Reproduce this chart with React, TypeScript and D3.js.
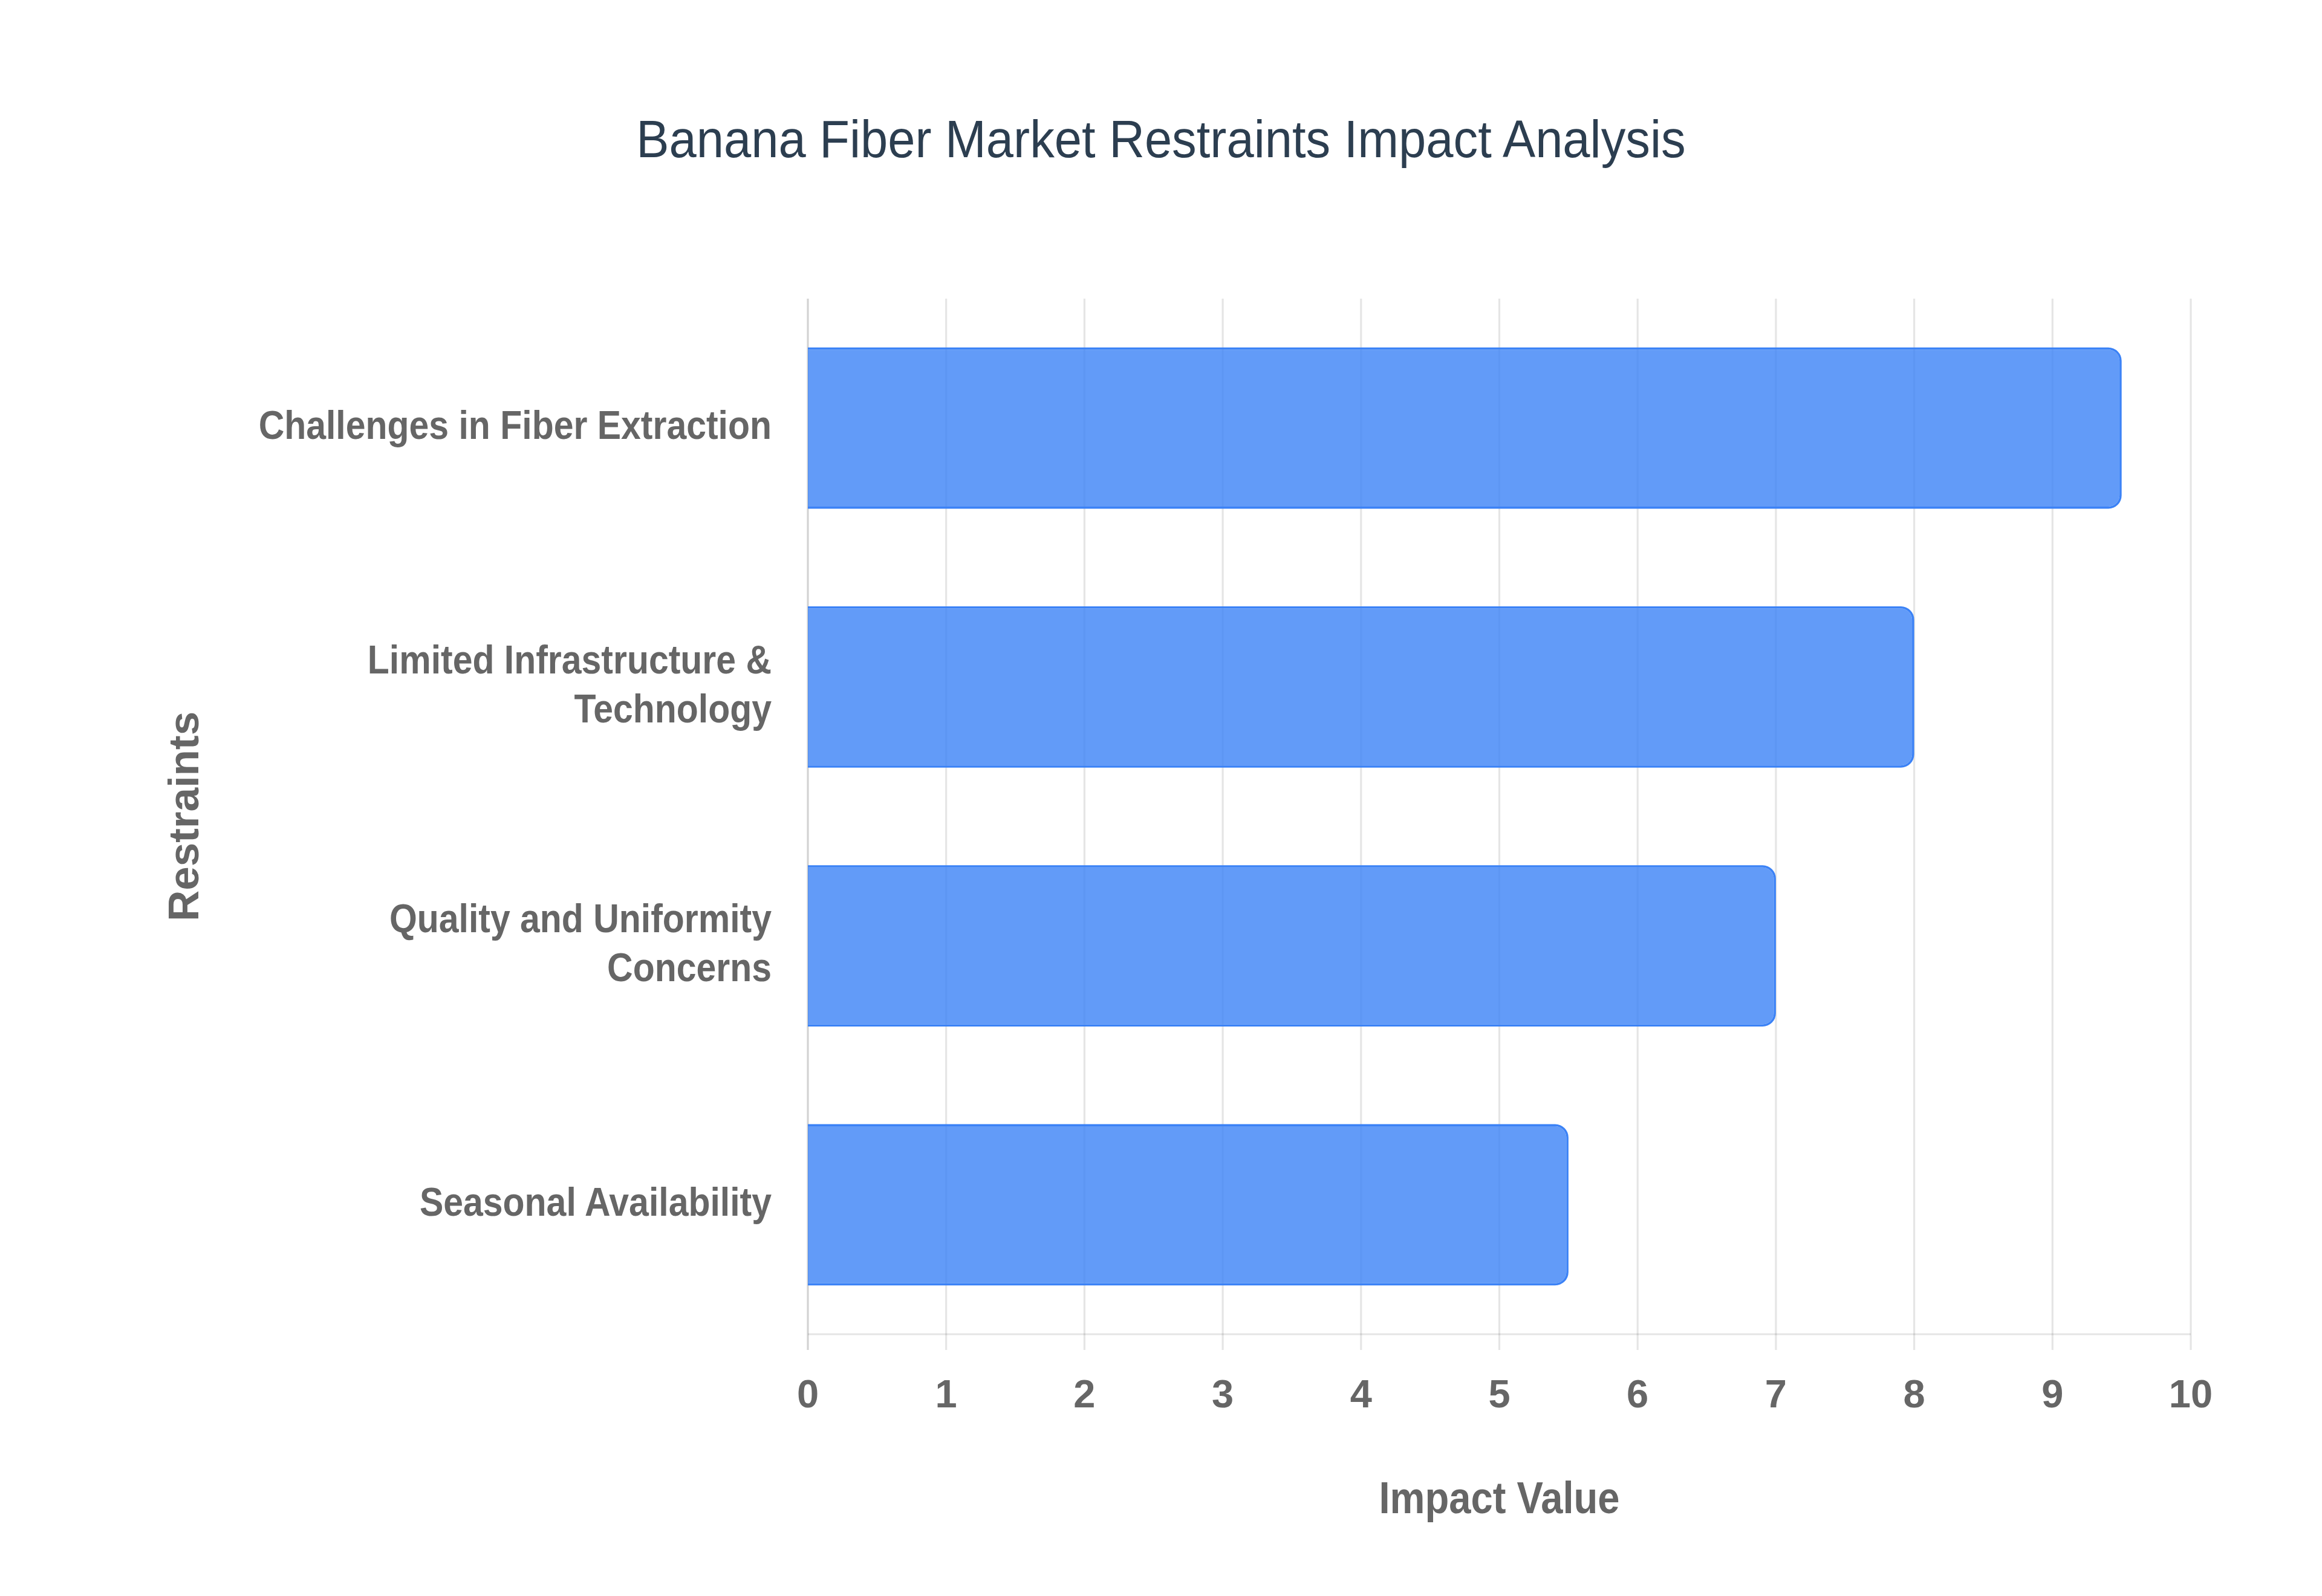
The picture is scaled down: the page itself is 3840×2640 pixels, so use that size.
import * as d3 from "d3";

// chart data
const restraints = [
  "Challenges in Fiber Extraction",
  "Limited Infrastructure & Technology",
  "Quality and Uniformity Concerns",
  "Seasonal Availability",
];
const labelLines = [
  ["Challenges in Fiber Extraction"],
  ["Limited Infrastructure &", "Technology"],
  ["Quality and Uniformity", "Concerns"],
  ["Seasonal Availability"],
];
const impact = [9.5, 8, 7, 5.5];
const xTicks = [0, 1, 2, 3, 4, 5, 6, 7, 8, 9, 10];

const W = 3840;
const H = 2640;
const margin = { top: 494, right: 217, bottom: 433, left: 1336 };
const FONT = "'Liberation Sans', Arial, Helvetica, sans-serif";
const GRID = "rgba(0,0,0,0.1)";
const BLUE = "rgb(59,130,246)";
const BLUE_FILL = "rgba(59,130,246,0.8)";

function barPath(x0: number, x1: number, y0: number, h: number, r: number) {
  const p = d3.path();
  const rr = Math.max(0, Math.min(r, h / 2, x1 - x0));
  p.moveTo(x0, y0);
  p.lineTo(x1 - rr, y0);
  p.arcTo(x1, y0, x1, y0 + rr, rr);
  p.lineTo(x1, y0 + h - rr);
  p.arcTo(x1, y0 + h, x1 - rr, y0 + h, rr);
  p.lineTo(x0, y0 + h);
  p.closePath();
  return p.toString();
}

export default function App() {
  const x = d3.scaleLinear().domain([0, 10]).range([margin.left, W - margin.right]);
  const y = d3
    .scaleBand()
    .domain(restraints)
    .range([margin.top, H - margin.bottom])
    .paddingInner(0.377)
    .paddingOuter(0.1885);
  const bw = 3.5;
  const radius = 22;
  const axisY = H - margin.bottom;
  const plotMidX = (x(0) + x(10)) / 2;
  const plotMidY = (margin.top + axisY) / 2;

  return (
    <svg
      width={W}
      height={H}
      style={{ position: "absolute", left: 0, top: 0, background: "#fff" }}
    >
      <rect width={W} height={H} fill="#fff" />

      {/* title */}
      <text
        transform={`translate(1920,260) scale(0.924,1)`}
        textAnchor="middle"
        fontFamily={FONT}
        fontSize={88}
        fill="#2c3e50"
      >
        Banana Fiber Market Restraints Impact Analysis
      </text>

      {/* vertical grid + ticks */}
      {xTicks.map((t) => (
        <line
          key={"g" + t}
          x1={x(t)}
          x2={x(t)}
          y1={margin.top}
          y2={axisY + 26}
          stroke={GRID}
          strokeWidth={3.2}
        />
      ))}
      <line x1={x(0)} x2={x(10)} y1={axisY} y2={axisY} stroke={GRID} strokeWidth={3.2} />
      <line x1={x(0)} x2={x(0)} y1={margin.top} y2={axisY + 26} stroke="rgba(0,0,0,0.08)" strokeWidth={3.2} />

      {/* bars */}
      {restraints.map((r, i) => {
        const y0 = y(r)!;
        const h = y.bandwidth();
        const x0 = x(0);
        const x1 = x(impact[i]);
        const outer = barPath(x0, x1, y0, h, radius);
        const inner = barPath(x0, x1 - bw, y0 + bw, h - 2 * bw, radius - bw);
        return (
          <g key={r}>
            <path d={outer + inner} fill={BLUE} fillRule="evenodd" />
            <path d={inner} fill={BLUE_FILL} />
          </g>
        );
      })}

      {/* y labels */}
      {restraints.map((r, i) => {
        const lines = labelLines[i];
        const cy = y(r)! + y.bandwidth() / 2;
        const lh = 81;
        return lines.map((ln, j) => {
          const ly = cy + (j - (lines.length - 1) / 2) * lh + 18;
          return (
            <text
              key={r + j}
              transform={`translate(1276,${ly}) scale(0.88,1)`}
              textAnchor="end"
              fontFamily={FONT}
              fontWeight="bold"
              fontSize={67}
              fill="#666"
            >
              {ln}
            </text>
          );
        });
      })}

      {/* x tick labels */}
      {xTicks.map((t) => (
        <text
          key={"t" + t}
          x={x(t)}
          y={2328}
          textAnchor="middle"
          fontFamily={FONT}
          fontWeight="bold"
          fontSize={65}
          fill="#666"
        >
          {t}
        </text>
      ))}

      {/* axis titles */}
      <text
        transform={`translate(${plotMidX},2503) scale(0.88,1)`}
        textAnchor="middle"
        fontFamily={FONT}
        fontWeight="bold"
        fontSize={74}
        fill="#666"
      >
        Impact Value
      </text>
      <text
        transform={`translate(328,${plotMidY}) rotate(-90)`}
        textAnchor="middle"
        fontFamily={FONT}
        fontWeight="bold"
        fontSize={71}
        fill="#666"
      >
        Restraints
      </text>
    </svg>
  );
}
